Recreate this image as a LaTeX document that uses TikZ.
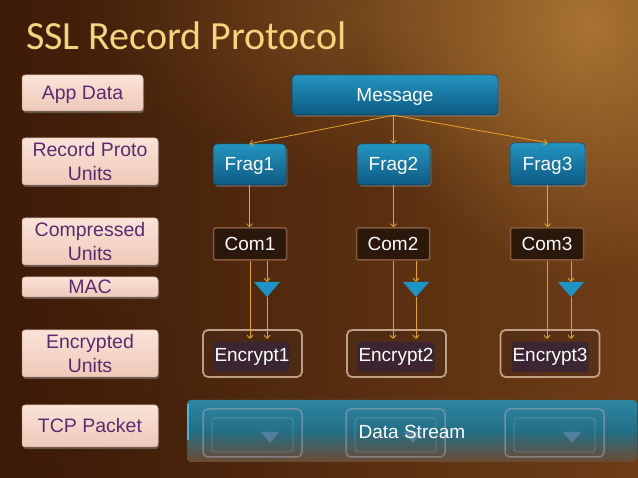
\documentclass[tikz,border=0pt]{standalone}
\usepackage{fontspec}
\setmainfont{Liberation Sans}
\newfontfamily\titlefont{Carlito}
\usetikzlibrary{arrows.meta,shadows,fadings}

\tikzfading[name=softglow, inner color=transparent!0, outer color=transparent!100]

\definecolor{bgdark}{HTML}{3C1B08}
\definecolor{bgmid}{HTML}{6E3D16}
\definecolor{bgglow}{HTML}{B8823A}
\definecolor{titlecol}{HTML}{F6D47E}
\definecolor{lbltop}{HTML}{FAE3D8}
\definecolor{lblbot}{HTML}{EEC9B8}
\definecolor{lblborder}{HTML}{C9A595}
\definecolor{lbltext}{HTML}{5B2A70}
\definecolor{bluetop}{HTML}{2494C0}
\definecolor{bluebot}{HTML}{0C5A84}
\definecolor{blueedge}{HTML}{0A4466}
\definecolor{arrcol}{HTML}{E6A428}
\definecolor{comfill}{HTML}{2C170B}
\definecolor{comedge}{HTML}{86583E}
\definecolor{encedge}{HTML}{D2B498}
\definecolor{encfill}{HTML}{4A2A18}
\definecolor{encinner}{HTML}{3A2534}
\definecolor{trifill}{HTML}{1C94C6}
\definecolor{dstop}{HTML}{2C86A0}
\definecolor{dsmid}{HTML}{236F88}
\definecolor{dsbot}{HTML}{6C4A30}
\definecolor{ghost}{HTML}{A6A6B8}
\definecolor{ghosttri}{HTML}{5C86A8}

\begin{document}
\begin{tikzpicture}[x=1pt,y=-1pt,
  lbl/.style={draw=lblborder, line width=0.5pt, top color=lbltop, bottom color=lblbot,
    rounded corners=3pt, text=lbltext, font=\fontsize{19.5}{23.5}\selectfont, align=center,
    inner sep=0pt, minimum width=136pt,
    drop shadow={opacity=0.55, shadow xshift=1pt, shadow yshift=-2pt}},
  oneline/.style={text height=14pt, text depth=1pt},
  bluebox/.style={draw=blueedge, line width=0.5pt, top color=bluetop, bottom color=bluebot,
    rounded corners=4pt, text=white, font=\fontsize{19}{22}\selectfont, inner sep=0pt,
    text height=14pt, text depth=1pt,
    drop shadow={opacity=0.5, shadow xshift=1.5pt, shadow yshift=-2pt}},
  combox/.style={draw=comedge, line width=1.5pt, fill=comfill, rounded corners=2pt,
    text=white, font=\fontsize{19}{22}\selectfont, inner sep=0pt,
    text height=14pt, text depth=1pt,
    minimum width=73pt, minimum height=32pt},
  encout/.style={draw=encedge, draw opacity=0.85, line width=1.8pt, fill=encfill, fill opacity=0.55,
    rounded corners=5pt, inner sep=0pt, minimum width=99pt, minimum height=47pt},
  encin/.style={fill=encinner, fill opacity=0.9, rounded corners=3pt, inner sep=0pt,
    minimum width=77pt, minimum height=30pt},
  enctext/.style={text=white, font=\fontsize{19}{22}\selectfont, inner sep=0pt,
    text height=14pt, text depth=1pt},
  tri/.style={inner sep=0pt, minimum width=26pt, minimum height=15pt,
    path picture={\fill[trifill] (path picture bounding box.north west) --
      (path picture bounding box.north east) -- (path picture bounding box.south) -- cycle;}},
  arr/.style={draw=arrcol, line width=0.8pt, -{Straight Barb[length=3pt,width=6pt]}}
]
\useasboundingbox (0,0) rectangle (638,478);

% background
\shade[left color=bgdark, right color=bgmid] (0,0) rectangle (638,478);
\fill[bgglow, opacity=0.8, path fading=softglow] (360,-230) rectangle (820,280);
\fill[bgglow, opacity=0.3, path fading=softglow] (100,-150) rectangle (640,180);
\fill[bgdark, opacity=0.4, path fading=softglow] (-200,300) rectangle (300,700);

% title
\node[anchor=base west, inner sep=0pt, text=titlecol,
  font=\titlefont\fontsize{40}{40}\selectfont] (title) at (26,50) {SSL Record Protocol};

% left labels
\node[lbl, oneline, minimum width=121pt, minimum height=36pt] (lapp) at (82.5,93) {App Data};
\node[lbl, minimum height=47pt] (lrec) at (90,161.5) {Record Proto\\Units};
\node[lbl, minimum height=47pt] (lcomp) at (90,241.5) {Compressed\\Units};
\node[lbl, oneline, minimum height=20pt] (lmac) at (90,287) {MAC};
\node[lbl, minimum height=47pt] (lenc) at (90,353.5) {Encrypted\\Units};
\node[lbl, oneline, minimum height=42pt] (ltcp) at (90,426) {TCP Packet};

% message and fragments
\node[bluebox, minimum width=206pt, minimum height=40pt] (msg) at (395,95) {Message};
\node[bluebox, minimum width=73pt, minimum height=41pt] (f1) at (249.5,164.5) {Frag1};
\node[bluebox, minimum width=73pt, minimum height=41pt] (f2) at (393.5,164.5) {Frag2};
\node[bluebox, minimum width=75pt, minimum height=42pt] (f3) at (547.5,164) {Frag3};

% compressed
\node[combox] (c1) at (250,244) {Com1};
\node[combox] (c2) at (393,244) {Com2};
\node[combox] (c3) at (547,244) {Com3};

% MAC triangles
\node[tri] (t1) at (267,289.5) {};
\node[tri] (t2) at (416,289.5) {};
\node[tri] (t3) at (571,289.5) {};

% encrypted
\node[encout] (e1box) at (252.5,353.5) {};
\node[encout] (e2box) at (396.5,353.5) {};
\node[encout] (e3box) at (550,353.5) {};
\node[encin] (e1in) at (251.5,357) {};
\node[encin] (e2in) at (396,357) {};
\node[encin] (e3in) at (550,357) {};
\node[enctext] (e1) at (252,355) {Encrypt1};
\node[enctext] (e2) at (396,355) {Encrypt2};
\node[enctext] (e3) at (550,355) {Encrypt3};

% data stream
\shade[top color=dstop, bottom color=dsbot, middle color=dsmid, rounded corners=4pt]
  (187,400) rectangle (637,462);
\node[inner sep=0pt, minimum width=450pt, minimum height=62pt] (ds) at (412,431) {};
\draw[cyan!70!white, line width=1.2pt, opacity=0.8] (188,404) -- (188,440);
\foreach \gx/\gn in {203/g1,346/g2,505/g3}{
  \draw[ghost, opacity=0.55, line width=1.5pt, rounded corners=5pt] (\gx,409) rectangle (\gx+99,457);
  \draw[ghost, opacity=0.35, line width=1pt, rounded corners=3pt] (\gx+9,418) rectangle (\gx+90,452);
  \fill[ghosttri, opacity=0.8] (\gx+58,432) -- (\gx+76,432) -- (\gx+67,443) -- cycle;
}
\node[text=white, font=\fontsize{19}{22}\selectfont, inner sep=0pt,
  text height=14pt, text depth=1pt] (dst) at (412,432) {Data Stream};

% connectors
\coordinate (ms) at (msg.south -| f2.north);
\draw[arr] (ms) -- (f1.north);
\draw[arr] (ms) -- (f2.north);
\draw[arr] (ms) -- (f3.north);
\draw[arr] (f1.south) -- (f1.south |- c1.north);
\draw[arr] (f2.south) -- (f2.south |- c2.north);
\draw[arr] (f3.south) -- (f3.south |- c3.north);
\foreach \c/\t/\e in {c1/t1/e1in, c2/t2/e2in, c3/t3/e3in}{
  \draw[arr] (\c.south) -- ([yshift=3pt]\c.south |- \e.north);
  \draw[arr] (\t.north |- \c.south) -- (\t.north);
  \draw[arr] (\t.south) -- ([yshift=3pt]\t.south |- \e.north);
}
\end{tikzpicture}
\end{document}
